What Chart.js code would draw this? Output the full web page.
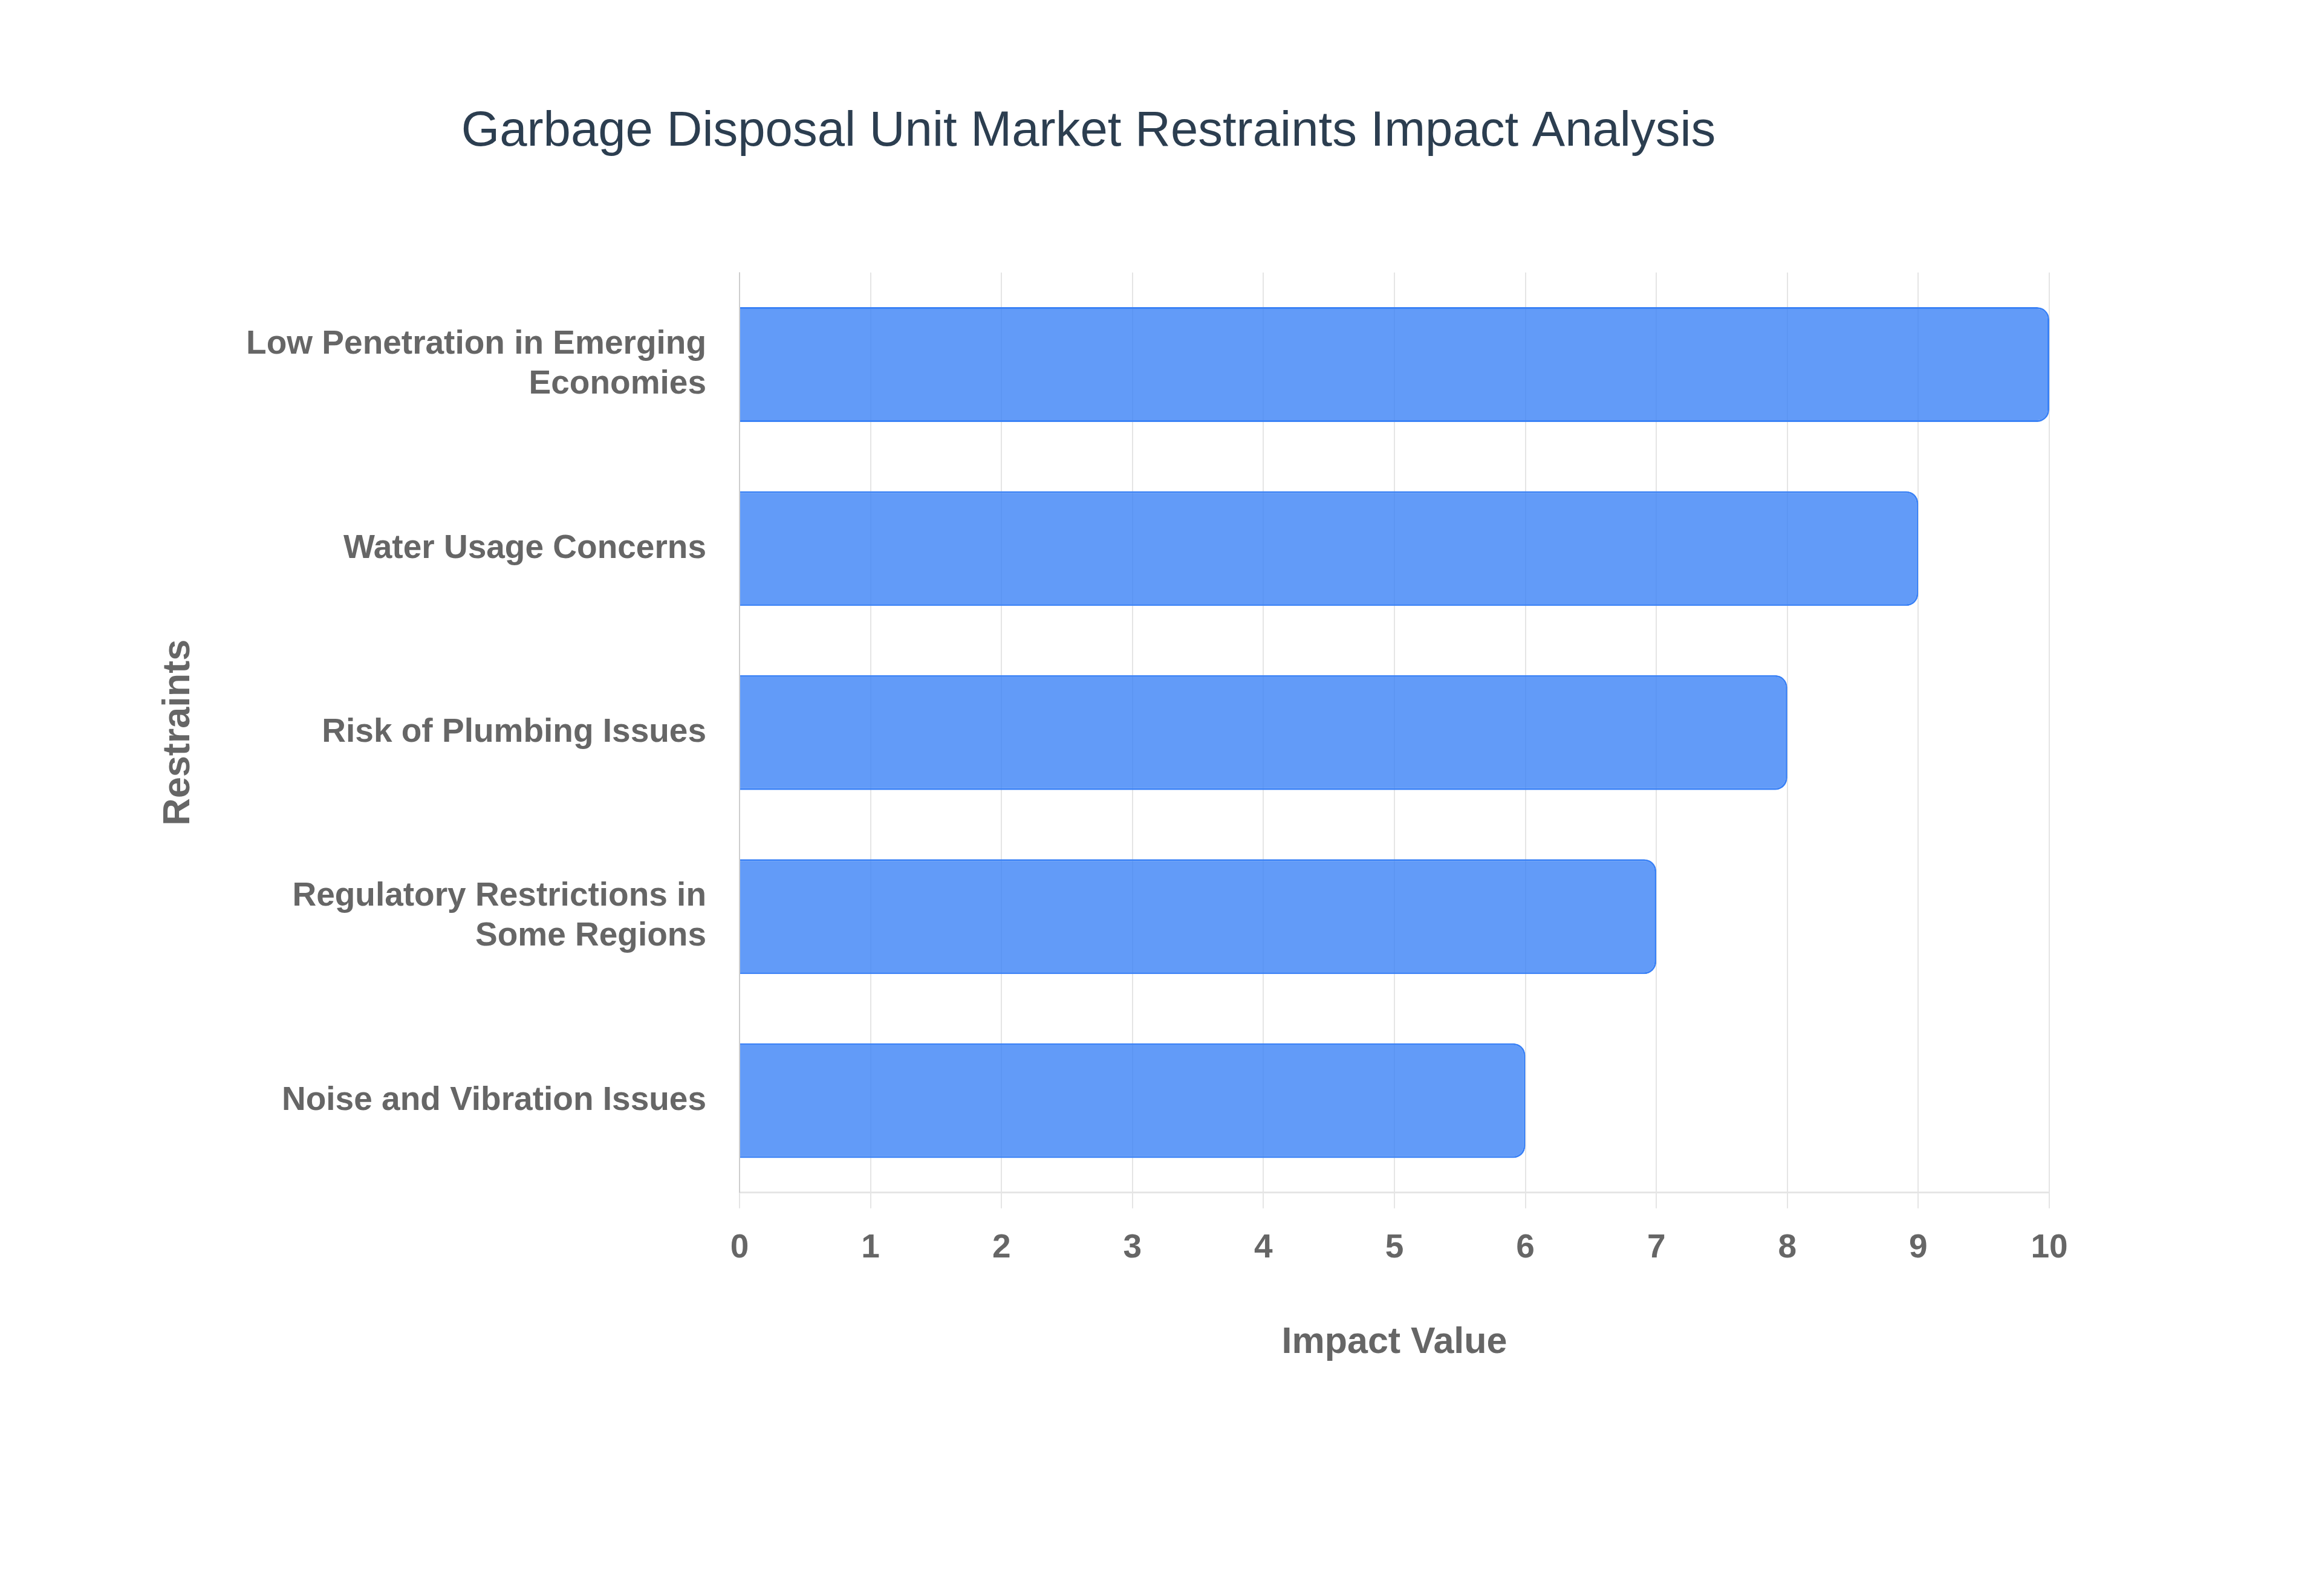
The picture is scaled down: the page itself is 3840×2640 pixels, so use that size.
<!DOCTYPE html>
<html>
<head>
<meta charset="utf-8">
<title>Garbage Disposal Unit Market Restraints Impact Analysis</title>
<script src="https://cdn.jsdelivr.net/npm/chart.js@4.4.1/dist/chart.umd.min.js"></script>
<style>
    html, body { margin: 0; padding: 0; background: #ffffff; }
    #chartBox { width: 3840px; height: 2640px; position: relative; }
</style>
</head>
<body>
<div id="chartBox"><canvas id="restraintsChart"></canvas></div>
<script>
// data
const restraintLabels = [
    ['Low Penetration in Emerging', 'Economies'],
    'Water Usage Concerns',
    'Risk of Plumbing Issues',
    ['Regulatory Restrictions in', 'Some Regions'],
    'Noise and Vibration Issues'
];
const impactValues = [10, 9, 8, 7, 6];
const impactAxisMin = 0;
const impactAxisMax = 10;
const impactAxisStep = 1;

const fontFamily = "'Liberation Sans', Arial, Helvetica, sans-serif";
const gridColor = 'rgba(0, 0, 0, 0.1)';

window.RestraintsChart = {
    instance: null,

    render: function () {
        const ctx = document.getElementById('restraintsChart');
        if (!ctx) return;
        if (RestraintsChart.instance) {
            RestraintsChart.instance.destroy();
        }
        RestraintsChart.instance = new Chart(ctx, {
            type: 'bar',
            data: {
                labels: restraintLabels,
                datasets: [{
                    label: 'Impact Value',
                    data: impactValues,
                    backgroundColor: 'rgba(59, 130, 246, 0.8)',
                    borderColor: '#3b82f6',
                    borderWidth: 3,
                    borderRadius: 20,
                    categoryPercentage: 0.8,
                    barPercentage: 0.78
                }]
            },
            options: {
                indexAxis: 'y',
                responsive: true,
                maintainAspectRatio: false,
                devicePixelRatio: 1,
                animation: false,
                layout: { padding: { top: 0, left: 211, right: 451, bottom: 378 } },
                plugins: {
                    legend: { display: false },
                    tooltip: { enabled: false },
                    title: {
                        display: true,
                        text: 'Garbage Disposal Unit Market Restraints Impact Analysis',
                        color: '#2c3e50',
                        font: { family: fontFamily, size: 81.5, weight: 'normal' },
                        padding: { top: 170, bottom: 183 }
                    }
                },
                scales: {
                    x: {
                        min: impactAxisMin,
                        max: impactAxisMax,
                        ticks: {
                            stepSize: impactAxisStep,
                            color: '#666',
                            padding: 33,
                            font: { family: fontFamily, size: 55, weight: 'bold' }
                        },
                        grid: { color: gridColor, lineWidth: 2, tickLength: 26 },
                        border: { color: gridColor, width: 3 },
                        title: {
                            display: true,
                            text: 'Impact Value',
                            color: '#666',
                            font: { family: fontFamily, size: 61, weight: 'bold' },
                            padding: { top: 54, bottom: 4 }
                        }
                    },
                    y: {
                        ticks: {
                            color: '#666',
                            padding: 47,
                            font: { family: fontFamily, size: 55, weight: 'bold' }
                        },
                        grid: { display: false },
                        border: { display: true, color: gridColor, width: 2 },
                        title: {
                            display: true,
                            text: 'Restraints',
                            color: '#666',
                            font: { family: fontFamily, size: 63, weight: 'bold' },
                            padding: { top: 47, bottom: 4 }
                        },
                        afterFit: function (scale) {
                            scale.width = 1012;
                        }
                    }
                }
            }
        });
    }
};

RestraintsChart.render();
</script>
</body>
</html>
